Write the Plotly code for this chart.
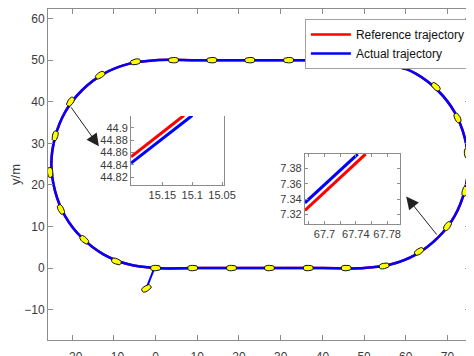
import math
import plotly.graph_objects as go

# ---------------- data ----------------
# reference path (closed stadium loop), x/m and y/m
ref_x = [0, 10, 20, 30, 40, 50, 56.5, 62.5, 67.7, 71.7, 74.1, 75.0, 74.1, 71.7, 67.7, 62.5, 56.5, 50,
         40, 30, 20, 10, 0, -6.5, -12.5, -17.7, -21.7, -24.1, -25.0, -24.1, -21.7, -17.7, -12.5, -6.5, 0]
ref_y = [0, 0, 0, 0, 0, 0, 0.9, 3.3, 7.3, 12.5, 18.5, 25.0, 31.5, 37.5, 42.7, 46.7, 49.1, 50,
         50, 50, 50, 50, 50, 49.1, 46.7, 42.7, 37.5, 31.5, 25.0, 18.5, 12.5, 7.3, 3.3, 0.9, 0]

# actual path: approach from the start point to the loop, then the loop itself
act_start_x = [-2.2, -0.3]
act_start_y = [-4.9, 0.0]
act_x = [0, 10, 20, 30, 40, 50, 56.5, 62.5, 67.7, 71.7, 74.1, 75.0, 74.1, 71.7, 67.7, 62.5, 56.5, 50,
         40, 30, 20, 10, 0, -6.5, -12.5, -17.7, -21.7, -24.1, -25.0, -24.1, -21.7, -17.7, -12.5, -6.5, 0]
act_y = [0, 0, 0, 0, 0, 0, 0.9, 3.3, 7.3, 12.5, 18.5, 25.0, 31.5, 37.5, 42.7, 46.7, 49.1, 50,
         50, 50, 50, 50, 50, 49.1, 46.7, 42.7, 37.5, 31.5, 25.0, 18.5, 12.5, 7.3, 3.3, 0.9, 0]

# vehicle snapshots: position and heading (deg)
veh_x = [-2.2, 0.0, 8.9, 18.2, 27.3, 36.6, 45.7, 54.8, 63.2, 70.0, 74.2, 74.7, 72.4, 67.2, 59.3,
         50.4, 41.0, 31.9, 22.6, 13.5, 4.3, -4.8, -13.3, -20.4, -24.1, -25.3, -22.7, -17.1, -9.4]
veh_y = [-4.9, 0.0, 0.0, 0.0, 0.0, 0.0, 0.0, 0.5, 4.0, 10.1, 18.5, 27.6, 36.1, 43.6, 48.5,
         50.0, 50.0, 50.0, 50.0, 50.0, 50.0, 49.6, 46.4, 40.0, 31.8, 23.0, 14.1, 6.8, 1.6]
veh_heading = [30, 0, 0, 0, 0, 0, 0, 11, 32, 53, 75, 96, 116, 136, 158,
               180, 180, 180, 180, 180, 180, 191, 212, 234, 254, 274, 296, 317, 338]

# zoomed views
in1_ref_x = [-15.2025, -15.114]
in1_ref_y = [44.853, 44.920]
in1_act_x = [-15.2025, -15.100]
in1_act_y = [44.843, 44.920]

in2_ref_x = [67.675, 67.7525]
in2_ref_y = [7.325, 7.399]
in2_act_x = [67.675, 67.7425]
in2_act_y = [7.335, 7.399]

main_xticks = [-20, -10, 0, 10, 20, 30, 40, 50, 60, 70]
main_yticks = [-10, 0, 10, 20, 30, 40, 50, 60]
in1_xticks = [-15.15, -15.1, -15.05]
in1_xtext = ["15.15", "15.1", "15.05"]
in1_yticks = [44.82, 44.84, 44.86, 44.88, 44.9]
in1_ytext = ["44.82", "44.84", "44.86", "44.88", "44.9"]
in2_xticks = [67.68, 67.7, 67.72, 67.74, 67.76, 67.78]
in2_xtext = ["", "67.7", "", "67.74", "", "67.78"]
in2_yticks = [7.32, 7.34, 7.36, 7.38]
in2_ytext = ["7.32", "7.34", "7.36", "7.38"]

# ---------------- vehicle outline (style only) ----------------
VL, VW = 2.4, 1.3
shape_u = []
shape_v = []
for k in range(21):
    t = 2 * math.pi * k / 20
    c, s = math.cos(t), math.sin(t)
    shape_u.append(VL / 2 * math.copysign(abs(c) ** 0.7, c))
    shape_v.append(VW / 2 * math.copysign(abs(s) ** 0.7, s))

poly_x, poly_y = [], []
for x0, y0, h in zip(veh_x, veh_y, veh_heading):
    a = math.radians(h)
    ca, sa = math.cos(a), math.sin(a)
    for u, v in zip(shape_u, shape_v):
        poly_x.append(x0 + u * ca - v * sa)
        poly_y.append(y0 + u * sa + v * ca)
    poly_x.append(None)
    poly_y.append(None)

FONT = "Liberation Sans, Arial, sans-serif"
RED = "#ff0000"
BLUE = "#0000ff"
AX = "#8c8c8c"
TXT = "#3a3a3a"

fig = go.Figure()
fig.add_trace(go.Scatter(x=ref_x, y=ref_y, mode="lines", name="Reference trajectory",
                         line=dict(color=RED, width=2.5, shape="spline"), xaxis="x", yaxis="y"))
fig.add_trace(go.Scatter(x=act_x, y=act_y, mode="lines", name="Actual trajectory",
                         line=dict(color=BLUE, width=2.5, shape="spline"), xaxis="x", yaxis="y"))
fig.add_trace(go.Scatter(x=act_start_x, y=act_start_y, mode="lines", showlegend=False,
                         line=dict(color=BLUE, width=2), xaxis="x", yaxis="y"))
fig.add_trace(go.Scatter(x=poly_x, y=poly_y, mode="lines", fill="toself", fillcolor="#ffff00",
                         line=dict(color="#111111", width=1), showlegend=False, hoverinfo="skip"))

fig.add_trace(go.Scatter(x=in1_ref_x, y=in1_ref_y, mode="lines", line=dict(color=RED, width=3),
                         showlegend=False, xaxis="x2", yaxis="y2"))
fig.add_trace(go.Scatter(x=in1_act_x, y=in1_act_y, mode="lines", line=dict(color=BLUE, width=3),
                         showlegend=False, xaxis="x2", yaxis="y2"))
fig.add_trace(go.Scatter(x=in2_ref_x, y=in2_ref_y, mode="lines", line=dict(color=RED, width=3),
                         showlegend=False, xaxis="x3", yaxis="y3"))
fig.add_trace(go.Scatter(x=in2_act_x, y=in2_act_y, mode="lines", line=dict(color=BLUE, width=3),
                         showlegend=False, xaxis="x3", yaxis="y3"))

common = dict(showgrid=False, zeroline=False, showline=True, linecolor=AX, linewidth=1,
              ticks="inside", tickcolor=AX, tickfont=dict(family=FONT, size=12, color=TXT))
inset = dict(showgrid=False, zeroline=False, showline=True, linecolor=AX, linewidth=1,
             ticks="inside", ticklen=3, tickcolor=AX, tickfont=dict(family=FONT, size=11, color=TXT))

fig.update_layout(
    width=474, height=356,
    margin=dict(l=40, r=2, t=0, b=16),
    paper_bgcolor="white", plot_bgcolor="white",
    font=dict(family=FONT, color=TXT),
    xaxis=dict(domain=[0, 1], range=[-25.8, 75.4], tickvals=main_xticks, ticklen=5,
               mirror="ticks", ticklabelstandoff=6, **common),
    yaxis=dict(domain=[0, 1], range=[-17.3, 62.3], tickvals=main_yticks, ticklen=5,
               mirror="ticks", title=dict(text="y/m", standoff=2, font=dict(size=13, family=FONT)),
               **common),
    xaxis2=dict(domain=[0.1968, 0.4167], anchor="y2", range=[-15.2025, -15.047],
                tickvals=in1_xticks, ticktext=in1_xtext, **inset),
    yaxis2=dict(domain=[0.4676, 0.6765], anchor="x2", range=[44.807, 44.919],
                tickvals=in1_yticks, ticktext=in1_ytext, mirror=True, **inset),
    xaxis3=dict(domain=[0.6088, 0.8333], anchor="y3", range=[67.675, 67.796],
                tickvals=in2_xticks, ticktext=in2_xtext, mirror="ticks", **inset),
    yaxis3=dict(domain=[0.35, 0.5618], anchor="x3", range=[7.307, 7.399],
                tickvals=in2_yticks, ticktext=in2_ytext, mirror="ticks", **inset),
    legend=dict(x=0.6088, y=0.97, xanchor="left", yanchor="top", bgcolor="white",
                bordercolor="#a0a0a0", borderwidth=1, font=dict(family=FONT, size=12, color="#111"),
                itemwidth=40, tracegroupgap=0),
    annotations=[
        dict(x=-13.6, y=29.3, ax=-20.5, ay=39.0, xref="x", yref="y", axref="x", ayref="y",
             text="", showarrow=True, arrowhead=2, arrowsize=2.5, arrowwidth=1, arrowcolor="#222"),
        dict(x=60.1, y=17.2, ax=67.7, ay=7.7, xref="x", yref="y", axref="x", ayref="y",
             text="", showarrow=True, arrowhead=2, arrowsize=2.5, arrowwidth=1, arrowcolor="#222"),
    ],
)

fig.write_html("out.html")
